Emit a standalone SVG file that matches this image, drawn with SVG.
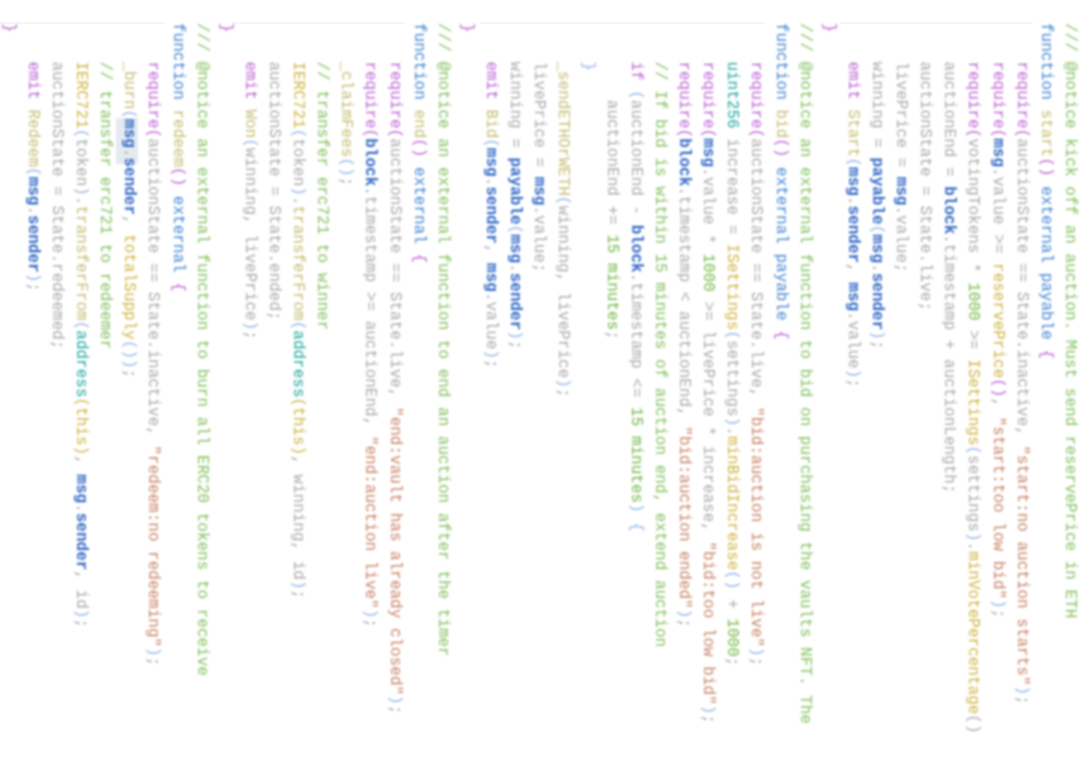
<svg xmlns="http://www.w3.org/2000/svg" width="1083" height="774" viewBox="0 0 1083 774">
<defs><filter id="bl" x="-5%" y="-5%" width="110%" height="110%"><feGaussianBlur stdDeviation="1.1"/></filter></defs>
<style>
text{font-family:"Liberation Mono","DejaVu Sans Mono",monospace;font-size:16px;white-space:pre;fill:#ababab}
.c{fill:#86c263}.k{fill:#4486d6}.f{fill:#c6be74}.p{fill:#bf66d4}.b{fill:#3268c6;font-weight:bold}.s{fill:#c98468}.n{fill:#74b846}.t{fill:#25a89f}.y{fill:#d0b646}.u{fill:#94b6ea}
</style>
<rect width="1083" height="774" fill="#fff"/>
<g id="rules" stroke="#ececec" stroke-width="1">
<line x1="840" y1="23" x2="1033" y2="23"/><line x1="480" y1="23" x2="765" y2="23"/><line x1="232" y1="23" x2="405" y2="23"/><line x1="0" y1="23" x2="165" y2="23"/>
</g>
<rect x="116" y="118" width="22" height="46" fill="#e4eaf0" filter="url(#bl)"/>
<g id="code" transform="translate(1083,0) rotate(90)" filter="url(#bl)">
<text x="23" y="17"><tspan class="c">/// @notice kick off an auction. Must send reservePrice in ETH</tspan></text>
<text x="23" y="41.1"><tspan class="k">function </tspan><tspan class="f">start</tspan><tspan class="p">()</tspan> <tspan class="k">external payable</tspan> <tspan class="p">{</tspan></text>
<text x="23" y="65.2">    <tspan class="p">require(</tspan>auctionState == State.inactive, <tspan class="s">"start:no auction starts"</tspan><tspan class="u">)</tspan>;</text>
<text x="23" y="89.4">    <tspan class="p">require(</tspan><tspan class="b">msg</tspan>.value &gt;= <tspan class="y">reservePrice</tspan><tspan class="p">()</tspan>, <tspan class="s">"start:too low bid"</tspan><tspan class="u">)</tspan>;</text>
<text x="23" y="113.5">    <tspan class="p">require(</tspan>votingTokens * <tspan class="n">1000</tspan> &gt;= <tspan class="y">ISettings</tspan><tspan class="u">(</tspan>settings<tspan class="u">)</tspan>.<tspan class="y">minVotePercentage</tspan>()</text>
<text x="23" y="137.6">    auctionEnd = <tspan class="b">block</tspan>.timestamp + auctionLength;</text>
<text x="23" y="161.7">    auctionState = State.live;</text>
<text x="23" y="185.8">    livePrice = <tspan class="b">msg</tspan>.value;</text>
<text x="23" y="210">    winning = <tspan class="b">payable</tspan><tspan class="u">(</tspan><tspan class="b">msg</tspan>.<tspan class="b">sender</tspan><tspan class="u">)</tspan>;</text>
<text x="23" y="234.1">    <tspan class="p">emit </tspan><tspan class="f">Start</tspan><tspan class="u">(</tspan><tspan class="b">msg</tspan>.<tspan class="b">sender</tspan>, <tspan class="b">msg</tspan>.value<tspan class="u">)</tspan>;</text>
<text x="23" y="258.2"><tspan class="p">}</tspan></text>
<text x="23" y="282.3"><tspan class="c">/// @notice an external function to bid on purchasing the vaults NFT. The</tspan></text>
<text x="23" y="306.4"><tspan class="k">function </tspan><tspan class="f">bid</tspan><tspan class="p">()</tspan> <tspan class="k">external payable</tspan> <tspan class="p">{</tspan></text>
<text x="23" y="330.6">    <tspan class="p">require(</tspan>auctionState == State.live, <tspan class="s">"bid:auction is not live"</tspan><tspan class="u">)</tspan>;</text>
<text x="23" y="354.7">    <tspan class="t">uint256</tspan> increase = <tspan class="y">ISettings</tspan><tspan class="u">(</tspan>settings<tspan class="u">)</tspan>.<tspan class="y">minBidIncrease</tspan><tspan class="u">()</tspan> + <tspan class="n">1000</tspan>;</text>
<text x="23" y="378.8">    <tspan class="p">require(</tspan><tspan class="b">msg</tspan>.value * <tspan class="n">1000</tspan> &gt;= livePrice * increase, <tspan class="s">"bid:too low bid"</tspan><tspan class="u">)</tspan>;</text>
<text x="23" y="402.9">    <tspan class="p">require(</tspan><tspan class="b">block</tspan>.timestamp &lt; auctionEnd, <tspan class="s">"bid:auction ended"</tspan><tspan class="u">)</tspan>;</text>
<text x="23" y="427">    <tspan class="c">// If bid is within 15 minutes of auction end, extend auction</tspan></text>
<text x="23" y="451.2">    <tspan class="p">if</tspan> <tspan class="u">(</tspan>auctionEnd - <tspan class="b">block</tspan>.timestamp &lt;= <tspan class="n">15 minutes</tspan><tspan class="u">)</tspan> <tspan class="u">{</tspan></text>
<text x="23" y="475.3">        auctionEnd += <tspan class="n">15 minutes</tspan>;</text>
<text x="23" y="499.4">    <tspan class="u">}</tspan></text>
<text x="23" y="523.5">    <tspan class="f">_sendETHOrWETH</tspan><tspan class="u">(</tspan>winning, livePrice<tspan class="u">)</tspan>;</text>
<text x="23" y="547.6">    livePrice = <tspan class="b">msg</tspan>.value;</text>
<text x="23" y="571.8">    winning = <tspan class="b">payable</tspan><tspan class="u">(</tspan><tspan class="b">msg</tspan>.<tspan class="b">sender</tspan><tspan class="u">)</tspan>;</text>
<text x="23" y="595.9">    <tspan class="p">emit </tspan><tspan class="f">Bid</tspan><tspan class="u">(</tspan><tspan class="b">msg</tspan>.<tspan class="b">sender</tspan>, <tspan class="b">msg</tspan>.value<tspan class="u">)</tspan>;</text>
<text x="23" y="620"><tspan class="p">}</tspan></text>
<text x="23" y="644.1"><tspan class="c">/// @notice an external function to end an auction after the timer</tspan></text>
<text x="23" y="668.2"><tspan class="k">function </tspan><tspan class="f">end</tspan><tspan class="p">()</tspan> <tspan class="k">external</tspan> <tspan class="p">{</tspan></text>
<text x="23" y="692.4">    <tspan class="p">require(</tspan>auctionState == State.live, <tspan class="s">"end:vault has already closed"</tspan><tspan class="u">)</tspan>;</text>
<text x="23" y="716.5">    <tspan class="p">require(</tspan><tspan class="b">block</tspan>.timestamp &gt;= auctionEnd, <tspan class="s">"end:auction live"</tspan><tspan class="u">)</tspan>;</text>
<text x="23" y="740.6">    <tspan class="f">_claimFees</tspan><tspan class="u">()</tspan>;</text>
<text x="23" y="764.7">    <tspan class="c">// transfer erc721 to winner</tspan></text>
<text x="23" y="788.8">    <tspan class="y">IERC721</tspan><tspan class="u">(</tspan>token<tspan class="u">)</tspan>.<tspan class="f">transferFrom</tspan><tspan class="u">(</tspan><tspan class="t">address</tspan><tspan class="y">(this)</tspan>, winning, id<tspan class="u">)</tspan>;</text>
<text x="23" y="813">    auctionState = State.ended;</text>
<text x="23" y="837.1">    <tspan class="p">emit </tspan><tspan class="f">Won</tspan><tspan class="u">(</tspan>winning, livePrice<tspan class="u">)</tspan>;</text>
<text x="23" y="861.2"><tspan class="p">}</tspan></text>
<text x="23" y="885.3"><tspan class="c">/// @notice an external function to burn all ERC20 tokens to receive</tspan></text>
<text x="23" y="909.4"><tspan class="k">function </tspan><tspan class="f">redeem</tspan><tspan class="p">()</tspan> <tspan class="k">external</tspan> <tspan class="p">{</tspan></text>
<text x="23" y="933.6">    <tspan class="p">require(</tspan>auctionState == State.inactive, <tspan class="s">"redeem:no redeeming"</tspan><tspan class="u">)</tspan>;</text>
<text x="23" y="957.7">    <tspan class="f">_burn</tspan><tspan class="u">(</tspan><tspan class="b">msg</tspan>.<tspan class="b">sender</tspan>, <tspan class="y">totalSupply</tspan><tspan class="u">()</tspan><tspan class="u">)</tspan>;</text>
<text x="23" y="981.8">    <tspan class="c">// transfer erc721 to redeemer</tspan></text>
<text x="23" y="1005.9">    <tspan class="y">IERC721</tspan><tspan class="u">(</tspan>token<tspan class="u">)</tspan>.<tspan class="f">transferFrom</tspan><tspan class="u">(</tspan><tspan class="t">address</tspan><tspan class="y">(this)</tspan>, <tspan class="b">msg</tspan>.<tspan class="b">sender</tspan>, id<tspan class="u">)</tspan>;</text>
<text x="23" y="1030">    auctionState = State.redeemed;</text>
<text x="23" y="1054.2">    <tspan class="p">emit </tspan><tspan class="f">Redeem</tspan><tspan class="u">(</tspan><tspan class="b">msg</tspan>.<tspan class="b">sender</tspan><tspan class="u">)</tspan>;</text>
<text x="23" y="1078.3"><tspan class="p">}</tspan></text>
</g>
</svg>
